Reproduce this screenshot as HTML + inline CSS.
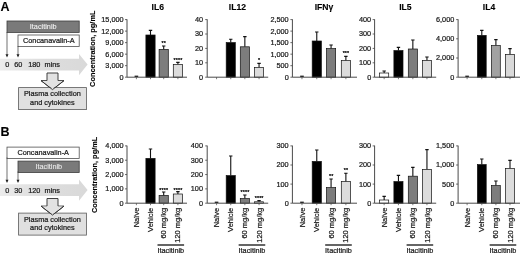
<!DOCTYPE html>
<html lang="en"><head><meta charset="utf-8"><title>Figure</title>
<style>
html,body{margin:0;padding:0;background:#fff;}
body{width:520px;height:255px;overflow:hidden;}
svg{display:block;font-family:"Liberation Sans",sans-serif;}
</style></head><body>
<svg width="520" height="255" viewBox="0 0 520 255">
<defs>
<linearGradient id="ga" x1="0" x2="1" y1="0" y2="0"><stop offset="0" stop-color="#ececec"/><stop offset="0.45" stop-color="#dedede"/><stop offset="1" stop-color="#d9d9d9"/></linearGradient>
</defs>
<rect width="520" height="255" fill="#fff"/>
<text x="0.5" y="11.3" font-size="12.5" text-anchor="start" font-weight="bold" fill="#000" stroke="#000" stroke-width="0.12">A</text>
<path d="M0 58.8 H79 V54.0 L87.6 64.6 L79 75.2 V70.6 H0 Z" fill="url(#ga)"/>
<rect x="7" y="21" width="72.2" height="11.4" fill="#7a7a7a" stroke="#3c3c3c" stroke-width="0.8"/>
<rect x="18" y="35" width="61.2" height="11.4" fill="#ffffff" stroke="#505050" stroke-width="0.8"/>
<text x="43.2" y="28.8" font-size="7.3" text-anchor="middle" font-weight="normal" fill="#f4f4f4" stroke="#f4f4f4" stroke-width="0.08">Itacitinib</text>
<text x="48.8" y="43.0" font-size="7.3" text-anchor="middle" font-weight="normal" fill="#1a1a1a" stroke="#1a1a1a" stroke-width="0.22">Concanavalin-A</text>
<path d="M7 32 V56 M18 46 V56" stroke="#333" stroke-width="0.7" fill="none"/>
<path d="M5.5 54.2 L8.5 54.2 L7 57.6 Z" fill="#222"/>
<path d="M16.5 54.2 L19.5 54.2 L18 57.6 Z" fill="#222"/>
<text x="7.3" y="67.4" font-size="7.3" text-anchor="middle" font-weight="normal" fill="#1a1a1a" stroke="#1a1a1a" stroke-width="0.22">0</text>
<text x="18.3" y="67.4" font-size="7.3" text-anchor="middle" font-weight="normal" fill="#1a1a1a" stroke="#1a1a1a" stroke-width="0.22">60</text>
<text x="34.3" y="67.4" font-size="7.3" text-anchor="middle" font-weight="normal" fill="#1a1a1a" stroke="#1a1a1a" stroke-width="0.22">180</text>
<text x="52.3" y="67.4" font-size="7.3" text-anchor="middle" font-weight="normal" fill="#1a1a1a" stroke="#1a1a1a" stroke-width="0.22">mins</text>
<path d="M47 73 H58 V80.6 H64 L52.5 89.6 L41 80.6 H47 Z" fill="#e2e2e2" stroke="#383838" stroke-width="0.95" stroke-linejoin="miter"/>
<rect x="18.6" y="87.6" width="67.8" height="22" fill="#e0e0e0" stroke="#5a5a5a" stroke-width="0.8"/>
<path d="M42.5 81 H62.5 L52.5 88.8 Z" fill="#e2e2e2"/>
<path d="M64 80.6 L52.5 89.6 L41 80.6" fill="none" stroke="#383838" stroke-width="0.95"/>
<text x="52.4" y="96.2" font-size="7.3" text-anchor="middle" font-weight="normal" fill="#1a1a1a" stroke="#1a1a1a" stroke-width="0.22">Plasma collection</text>
<text x="52.4" y="104.7" font-size="7.3" text-anchor="middle" font-weight="normal" fill="#1a1a1a" stroke="#1a1a1a" stroke-width="0.22">and cytokines</text>
<text x="0.5" y="136.1" font-size="12.5" text-anchor="start" font-weight="bold" fill="#000" stroke="#000" stroke-width="0.12">B</text>
<path d="M0 184.3 H79 V179.5 L87.6 190.1 L79 200.7 V196.1 H0 Z" fill="url(#ga)"/>
<rect x="7" y="147.1" width="72.2" height="11.4" fill="#ffffff" stroke="#505050" stroke-width="0.8"/>
<rect x="18" y="161.1" width="61.2" height="11.4" fill="#7a7a7a" stroke="#3c3c3c" stroke-width="0.8"/>
<text x="43.2" y="154.6" font-size="7.3" text-anchor="middle" font-weight="normal" fill="#1a1a1a" stroke="#1a1a1a" stroke-width="0.22">Concanavalin-A</text>
<text x="48.8" y="168.8" font-size="7.3" text-anchor="middle" font-weight="normal" fill="#ececec" stroke="#ececec" stroke-width="0.08">Itacitinib</text>
<path d="M7 157.5 V181.5 M18 171.5 V181.5" stroke="#333" stroke-width="0.7" fill="none"/>
<path d="M5.5 179.7 L8.5 179.7 L7 183.1 Z" fill="#222"/>
<path d="M16.5 179.7 L19.5 179.7 L18 183.1 Z" fill="#222"/>
<text x="7.3" y="192.9" font-size="7.3" text-anchor="middle" font-weight="normal" fill="#1a1a1a" stroke="#1a1a1a" stroke-width="0.22">0</text>
<text x="18.3" y="192.9" font-size="7.3" text-anchor="middle" font-weight="normal" fill="#1a1a1a" stroke="#1a1a1a" stroke-width="0.22">30</text>
<text x="34.3" y="192.9" font-size="7.3" text-anchor="middle" font-weight="normal" fill="#1a1a1a" stroke="#1a1a1a" stroke-width="0.22">120</text>
<text x="52.3" y="192.9" font-size="7.3" text-anchor="middle" font-weight="normal" fill="#1a1a1a" stroke="#1a1a1a" stroke-width="0.22">mins</text>
<path d="M47 198.5 H58 V206.1 H64 L52.5 215.1 L41 206.1 H47 Z" fill="#e2e2e2" stroke="#383838" stroke-width="0.95" stroke-linejoin="miter"/>
<rect x="18.6" y="213.1" width="67.8" height="22" fill="#e0e0e0" stroke="#5a5a5a" stroke-width="0.8"/>
<path d="M42.5 206.5 H62.5 L52.5 214.3 Z" fill="#e2e2e2"/>
<path d="M64 206.1 L52.5 215.1 L41 206.1" fill="none" stroke="#383838" stroke-width="0.95"/>
<text x="52.4" y="221.7" font-size="7.3" text-anchor="middle" font-weight="normal" fill="#1a1a1a" stroke="#1a1a1a" stroke-width="0.22">Plasma collection</text>
<text x="52.4" y="230.2" font-size="7.3" text-anchor="middle" font-weight="normal" fill="#1a1a1a" stroke="#1a1a1a" stroke-width="0.22">and cytokines</text>
<path d="M134.60 76.30 H138.20" stroke="#111" stroke-width="1.3" fill="none"/>
<path d="M136.40 77.2 v2" stroke="#444" stroke-width="0.7"/>
<path d="M150.50 35.00 V30.40 M148.80 30.40 H152.20" stroke="#111" stroke-width="1.1" fill="none"/>
<rect x="145.90" y="35.00" width="9.20" height="42.20" fill="#000000" stroke="#111" stroke-width="0.7"/>
<path d="M150.50 77.2 v2" stroke="#444" stroke-width="0.7"/>
<path d="M163.70 49.40 V46.00 M162.00 46.00 H165.40" stroke="#111" stroke-width="1.1" fill="none"/>
<rect x="159.10" y="49.40" width="9.20" height="27.80" fill="#7d7d7d" stroke="#111" stroke-width="0.7"/>
<path d="M163.70 77.2 v2" stroke="#444" stroke-width="0.7"/>
<path d="M177.90 64.40 V62.40 M176.20 62.40 H179.60" stroke="#111" stroke-width="1.1" fill="none"/>
<rect x="173.30" y="64.40" width="9.20" height="12.80" fill="#dcdcdc" stroke="#111" stroke-width="0.7"/>
<path d="M177.90 77.2 v2" stroke="#444" stroke-width="0.7"/>
<path d="M127.0 19.3 V77.2 H187.0" stroke="#4a4a4a" stroke-width="1" fill="none"/>
<path d="M125.0 77.20 h2" stroke="#444" stroke-width="0.8"/>
<text x="123.6" y="79.6" font-size="7.3" text-anchor="end" font-weight="normal" fill="#1a1a1a" stroke="#1a1a1a" stroke-width="0.22">0</text>
<path d="M125.0 65.68 h2" stroke="#444" stroke-width="0.8"/>
<text x="123.6" y="68.08" font-size="7.3" text-anchor="end" font-weight="normal" fill="#1a1a1a" stroke="#1a1a1a" stroke-width="0.22">3,000</text>
<path d="M125.0 54.16 h2" stroke="#444" stroke-width="0.8"/>
<text x="123.6" y="56.56" font-size="7.3" text-anchor="end" font-weight="normal" fill="#1a1a1a" stroke="#1a1a1a" stroke-width="0.22">6,000</text>
<path d="M125.0 42.64 h2" stroke="#444" stroke-width="0.8"/>
<text x="123.6" y="45.04" font-size="7.3" text-anchor="end" font-weight="normal" fill="#1a1a1a" stroke="#1a1a1a" stroke-width="0.22">9,000</text>
<path d="M125.0 31.12 h2" stroke="#444" stroke-width="0.8"/>
<text x="123.6" y="33.52" font-size="7.3" text-anchor="end" font-weight="normal" fill="#1a1a1a" stroke="#1a1a1a" stroke-width="0.22">12,000</text>
<path d="M125.0 19.60 h2" stroke="#444" stroke-width="0.8"/>
<text x="123.6" y="22.0" font-size="7.3" text-anchor="end" font-weight="normal" fill="#1a1a1a" stroke="#1a1a1a" stroke-width="0.22">15,000</text>
<text x="157.8" y="10.4" font-size="8.6" text-anchor="middle" font-weight="bold" fill="#000" stroke="#000" stroke-width="0.12">IL6</text>
<text x="163.8" y="45.0" font-size="5.3" text-anchor="middle" font-weight="normal" fill="#000" stroke="#000" stroke-width="0.22" letter-spacing="0.15">**</text>
<text x="178.0" y="61.6" font-size="5.3" text-anchor="middle" font-weight="normal" fill="#000" stroke="#000" stroke-width="0.22" letter-spacing="0.15">****</text>
<path d="M216.55 77.2 v2" stroke="#444" stroke-width="0.7"/>
<path d="M230.75 42.60 V39.20 M229.05 39.20 H232.45" stroke="#111" stroke-width="1.1" fill="none"/>
<rect x="226.20" y="42.60" width="9.10" height="34.60" fill="#000000" stroke="#111" stroke-width="0.7"/>
<path d="M230.75 77.2 v2" stroke="#444" stroke-width="0.7"/>
<path d="M244.85 46.80 V36.60 M243.15 36.60 H246.55" stroke="#111" stroke-width="1.1" fill="none"/>
<rect x="240.30" y="46.80" width="9.10" height="30.40" fill="#7d7d7d" stroke="#111" stroke-width="0.7"/>
<path d="M244.85 77.2 v2" stroke="#444" stroke-width="0.7"/>
<path d="M259.05 67.40 V63.40 M257.35 63.40 H260.75" stroke="#111" stroke-width="1.1" fill="none"/>
<rect x="254.50" y="67.40" width="9.10" height="9.80" fill="#dcdcdc" stroke="#111" stroke-width="0.7"/>
<path d="M259.05 77.2 v2" stroke="#444" stroke-width="0.7"/>
<path d="M207.2 19.3 V77.2 H268.2" stroke="#4a4a4a" stroke-width="1" fill="none"/>
<path d="M205.2 77.20 h2" stroke="#444" stroke-width="0.8"/>
<text x="203.0" y="79.6" font-size="7.3" text-anchor="end" font-weight="normal" fill="#1a1a1a" stroke="#1a1a1a" stroke-width="0.22">0</text>
<path d="M205.2 62.80 h2" stroke="#444" stroke-width="0.8"/>
<text x="203.0" y="65.2" font-size="7.3" text-anchor="end" font-weight="normal" fill="#1a1a1a" stroke="#1a1a1a" stroke-width="0.22">10</text>
<path d="M205.2 48.40 h2" stroke="#444" stroke-width="0.8"/>
<text x="203.0" y="50.8" font-size="7.3" text-anchor="end" font-weight="normal" fill="#1a1a1a" stroke="#1a1a1a" stroke-width="0.22">20</text>
<path d="M205.2 34.00 h2" stroke="#444" stroke-width="0.8"/>
<text x="203.0" y="36.4" font-size="7.3" text-anchor="end" font-weight="normal" fill="#1a1a1a" stroke="#1a1a1a" stroke-width="0.22">30</text>
<path d="M205.2 19.60 h2" stroke="#444" stroke-width="0.8"/>
<text x="203.0" y="22.0" font-size="7.3" text-anchor="end" font-weight="normal" fill="#1a1a1a" stroke="#1a1a1a" stroke-width="0.22">40</text>
<text x="237.4" y="10.4" font-size="8.6" text-anchor="middle" font-weight="bold" fill="#000" stroke="#000" stroke-width="0.12">IL12</text>
<text x="259.15" y="62.0" font-size="5.3" text-anchor="middle" font-weight="normal" fill="#000" stroke="#000" stroke-width="0.22" letter-spacing="0.15">*</text>
<path d="M300.18 76.30 H303.78" stroke="#111" stroke-width="1.3" fill="none"/>
<path d="M301.98 77.2 v2" stroke="#444" stroke-width="0.7"/>
<path d="M316.77 41.00 V32.00 M315.07 32.00 H318.47" stroke="#111" stroke-width="1.1" fill="none"/>
<rect x="312.20" y="41.00" width="9.15" height="36.20" fill="#000000" stroke="#111" stroke-width="0.7"/>
<path d="M316.77 77.2 v2" stroke="#444" stroke-width="0.7"/>
<path d="M331.07 48.60 V45.00 M329.38 45.00 H332.77" stroke="#111" stroke-width="1.1" fill="none"/>
<rect x="326.50" y="48.60" width="9.15" height="28.60" fill="#7d7d7d" stroke="#111" stroke-width="0.7"/>
<path d="M331.07 77.2 v2" stroke="#444" stroke-width="0.7"/>
<path d="M345.88 60.60 V56.40 M344.18 56.40 H347.57" stroke="#111" stroke-width="1.1" fill="none"/>
<rect x="341.30" y="60.60" width="9.15" height="16.60" fill="#dcdcdc" stroke="#111" stroke-width="0.7"/>
<path d="M345.88 77.2 v2" stroke="#444" stroke-width="0.7"/>
<path d="M292.4 19.3 V77.2 H357.0" stroke="#4a4a4a" stroke-width="1" fill="none"/>
<path d="M290.4 77.20 h2" stroke="#444" stroke-width="0.8"/>
<text x="288.7" y="79.6" font-size="7.3" text-anchor="end" font-weight="normal" fill="#1a1a1a" stroke="#1a1a1a" stroke-width="0.22">0</text>
<path d="M290.4 65.68 h2" stroke="#444" stroke-width="0.8"/>
<text x="288.7" y="68.08" font-size="7.3" text-anchor="end" font-weight="normal" fill="#1a1a1a" stroke="#1a1a1a" stroke-width="0.22">500</text>
<path d="M290.4 54.16 h2" stroke="#444" stroke-width="0.8"/>
<text x="288.7" y="56.56" font-size="7.3" text-anchor="end" font-weight="normal" fill="#1a1a1a" stroke="#1a1a1a" stroke-width="0.22">1,000</text>
<path d="M290.4 42.64 h2" stroke="#444" stroke-width="0.8"/>
<text x="288.7" y="45.04" font-size="7.3" text-anchor="end" font-weight="normal" fill="#1a1a1a" stroke="#1a1a1a" stroke-width="0.22">1,500</text>
<path d="M290.4 31.12 h2" stroke="#444" stroke-width="0.8"/>
<text x="288.7" y="33.52" font-size="7.3" text-anchor="end" font-weight="normal" fill="#1a1a1a" stroke="#1a1a1a" stroke-width="0.22">2,000</text>
<path d="M290.4 19.60 h2" stroke="#444" stroke-width="0.8"/>
<text x="288.7" y="22.0" font-size="7.3" text-anchor="end" font-weight="normal" fill="#1a1a1a" stroke="#1a1a1a" stroke-width="0.22">2,500</text>
<text x="324" y="10.4" font-size="8.6" text-anchor="middle" font-weight="bold" fill="#000" stroke="#000" stroke-width="0.12">IFNγ</text>
<text x="345.98" y="55.2" font-size="5.3" text-anchor="middle" font-weight="normal" fill="#000" stroke="#000" stroke-width="0.22" letter-spacing="0.15">***</text>
<path d="M384.15 73.00 V71.00 M382.45 71.00 H385.85" stroke="#111" stroke-width="1.1" fill="none"/>
<rect x="379.60" y="73.00" width="9.10" height="4.20" fill="#ffffff" stroke="#111" stroke-width="0.7"/>
<path d="M384.15 77.2 v2" stroke="#444" stroke-width="0.7"/>
<path d="M398.45 50.60 V47.40 M396.75 47.40 H400.15" stroke="#111" stroke-width="1.1" fill="none"/>
<rect x="393.90" y="50.60" width="9.10" height="26.60" fill="#000000" stroke="#111" stroke-width="0.7"/>
<path d="M398.45 77.2 v2" stroke="#444" stroke-width="0.7"/>
<path d="M412.85 49.00 V40.00 M411.15 40.00 H414.55" stroke="#111" stroke-width="1.1" fill="none"/>
<rect x="408.30" y="49.00" width="9.10" height="28.20" fill="#7d7d7d" stroke="#111" stroke-width="0.7"/>
<path d="M412.85 77.2 v2" stroke="#444" stroke-width="0.7"/>
<path d="M426.95 60.40 V57.00 M425.25 57.00 H428.65" stroke="#111" stroke-width="1.1" fill="none"/>
<rect x="422.40" y="60.40" width="9.10" height="16.80" fill="#dcdcdc" stroke="#111" stroke-width="0.7"/>
<path d="M426.95 77.2 v2" stroke="#444" stroke-width="0.7"/>
<path d="M374.6 19.3 V77.2 H436.2" stroke="#4a4a4a" stroke-width="1" fill="none"/>
<path d="M372.6 77.20 h2" stroke="#444" stroke-width="0.8"/>
<text x="371.2" y="79.6" font-size="7.3" text-anchor="end" font-weight="normal" fill="#1a1a1a" stroke="#1a1a1a" stroke-width="0.22">0</text>
<path d="M372.6 62.80 h2" stroke="#444" stroke-width="0.8"/>
<text x="371.2" y="65.2" font-size="7.3" text-anchor="end" font-weight="normal" fill="#1a1a1a" stroke="#1a1a1a" stroke-width="0.22">100</text>
<path d="M372.6 48.40 h2" stroke="#444" stroke-width="0.8"/>
<text x="371.2" y="50.8" font-size="7.3" text-anchor="end" font-weight="normal" fill="#1a1a1a" stroke="#1a1a1a" stroke-width="0.22">200</text>
<path d="M372.6 34.00 h2" stroke="#444" stroke-width="0.8"/>
<text x="371.2" y="36.4" font-size="7.3" text-anchor="end" font-weight="normal" fill="#1a1a1a" stroke="#1a1a1a" stroke-width="0.22">300</text>
<path d="M372.6 19.60 h2" stroke="#444" stroke-width="0.8"/>
<text x="371.2" y="22.0" font-size="7.3" text-anchor="end" font-weight="normal" fill="#1a1a1a" stroke="#1a1a1a" stroke-width="0.22">400</text>
<text x="405.4" y="10.4" font-size="8.6" text-anchor="middle" font-weight="bold" fill="#000" stroke="#000" stroke-width="0.12">IL5</text>
<path d="M465.30 76.30 H468.90" stroke="#111" stroke-width="1.3" fill="none"/>
<path d="M467.10 77.2 v2" stroke="#444" stroke-width="0.7"/>
<path d="M481.80 35.40 V30.40 M480.10 30.40 H483.50" stroke="#111" stroke-width="1.1" fill="none"/>
<rect x="477.40" y="35.40" width="8.80" height="41.80" fill="#000000" stroke="#111" stroke-width="0.7"/>
<path d="M481.80 77.2 v2" stroke="#444" stroke-width="0.7"/>
<path d="M495.90 45.60 V39.60 M494.20 39.60 H497.60" stroke="#111" stroke-width="1.1" fill="none"/>
<rect x="491.50" y="45.60" width="8.80" height="31.60" fill="#a2a2a2" stroke="#111" stroke-width="0.7"/>
<path d="M495.90 77.2 v2" stroke="#444" stroke-width="0.7"/>
<path d="M510.00 54.40 V48.60 M508.30 48.60 H511.70" stroke="#111" stroke-width="1.1" fill="none"/>
<rect x="505.60" y="54.40" width="8.80" height="22.80" fill="#d9d9d9" stroke="#111" stroke-width="0.7"/>
<path d="M510.00 77.2 v2" stroke="#444" stroke-width="0.7"/>
<path d="M458.1 19.3 V77.2 H520.0" stroke="#4a4a4a" stroke-width="1" fill="none"/>
<path d="M456.1 77.20 h2" stroke="#444" stroke-width="0.8"/>
<text x="454.3" y="79.6" font-size="7.3" text-anchor="end" font-weight="normal" fill="#1a1a1a" stroke="#1a1a1a" stroke-width="0.22">0</text>
<path d="M456.1 58.00 h2" stroke="#444" stroke-width="0.8"/>
<text x="454.3" y="60.4" font-size="7.3" text-anchor="end" font-weight="normal" fill="#1a1a1a" stroke="#1a1a1a" stroke-width="0.22">2,000</text>
<path d="M456.1 38.80 h2" stroke="#444" stroke-width="0.8"/>
<text x="454.3" y="41.2" font-size="7.3" text-anchor="end" font-weight="normal" fill="#1a1a1a" stroke="#1a1a1a" stroke-width="0.22">4,000</text>
<path d="M456.1 19.60 h2" stroke="#444" stroke-width="0.8"/>
<text x="454.3" y="22.0" font-size="7.3" text-anchor="end" font-weight="normal" fill="#1a1a1a" stroke="#1a1a1a" stroke-width="0.22">6,000</text>
<text x="489" y="10.4" font-size="8.6" text-anchor="middle" font-weight="bold" fill="#000" stroke="#000" stroke-width="0.12">IL4</text>
<path d="M136.40 203.2 v2" stroke="#444" stroke-width="0.7"/>
<path d="M150.50 158.40 V149.00 M148.80 149.00 H152.20" stroke="#111" stroke-width="1.1" fill="none"/>
<rect x="145.90" y="158.40" width="9.20" height="44.80" fill="#000000" stroke="#111" stroke-width="0.7"/>
<path d="M150.50 203.2 v2" stroke="#444" stroke-width="0.7"/>
<path d="M163.70 195.40 V192.00 M162.00 192.00 H165.40" stroke="#111" stroke-width="1.1" fill="none"/>
<rect x="159.10" y="195.40" width="9.20" height="7.80" fill="#7d7d7d" stroke="#111" stroke-width="0.7"/>
<path d="M163.70 203.2 v2" stroke="#444" stroke-width="0.7"/>
<path d="M177.90 194.00 V191.60 M176.20 191.60 H179.60" stroke="#111" stroke-width="1.1" fill="none"/>
<rect x="173.30" y="194.00" width="9.20" height="9.20" fill="#dcdcdc" stroke="#111" stroke-width="0.7"/>
<path d="M177.90 203.2 v2" stroke="#444" stroke-width="0.7"/>
<path d="M127.0 145.6 V203.2 H187.0" stroke="#4a4a4a" stroke-width="1" fill="none"/>
<path d="M125.0 203.20 h2" stroke="#444" stroke-width="0.8"/>
<text x="123.6" y="205.6" font-size="7.3" text-anchor="end" font-weight="normal" fill="#1a1a1a" stroke="#1a1a1a" stroke-width="0.22">0</text>
<path d="M125.0 188.88 h2" stroke="#444" stroke-width="0.8"/>
<text x="123.6" y="191.28" font-size="7.3" text-anchor="end" font-weight="normal" fill="#1a1a1a" stroke="#1a1a1a" stroke-width="0.22">1,000</text>
<path d="M125.0 174.55 h2" stroke="#444" stroke-width="0.8"/>
<text x="123.6" y="176.95" font-size="7.3" text-anchor="end" font-weight="normal" fill="#1a1a1a" stroke="#1a1a1a" stroke-width="0.22">2,000</text>
<path d="M125.0 160.22 h2" stroke="#444" stroke-width="0.8"/>
<text x="123.6" y="162.62" font-size="7.3" text-anchor="end" font-weight="normal" fill="#1a1a1a" stroke="#1a1a1a" stroke-width="0.22">3,000</text>
<path d="M125.0 145.90 h2" stroke="#444" stroke-width="0.8"/>
<text x="123.6" y="148.3" font-size="7.3" text-anchor="end" font-weight="normal" fill="#1a1a1a" stroke="#1a1a1a" stroke-width="0.22">4,000</text>
<text x="163.8" y="192.0" font-size="5.3" text-anchor="middle" font-weight="normal" fill="#000" stroke="#000" stroke-width="0.22" letter-spacing="0.15">****</text>
<text x="178.0" y="191.8" font-size="5.3" text-anchor="middle" font-weight="normal" fill="#000" stroke="#000" stroke-width="0.22" letter-spacing="0.15">****</text>
<text x="139.0" y="207.7" font-size="7.5" text-anchor="end" font-weight="normal" fill="#1a1a1a" stroke="#1a1a1a" stroke-width="0.22" transform="rotate(-90 139.0 207.7)">Naïve</text>
<text x="153.1" y="207.7" font-size="7.5" text-anchor="end" font-weight="normal" fill="#1a1a1a" stroke="#1a1a1a" stroke-width="0.22" transform="rotate(-90 153.1 207.7)">Vehicle</text>
<text x="166.3" y="207.7" font-size="7.5" text-anchor="end" font-weight="normal" fill="#1a1a1a" stroke="#1a1a1a" stroke-width="0.22" transform="rotate(-90 166.3 207.7)">60 mg/kg</text>
<text x="180.5" y="207.7" font-size="7.5" text-anchor="end" font-weight="normal" fill="#1a1a1a" stroke="#1a1a1a" stroke-width="0.22" transform="rotate(-90 180.5 207.7)">120 mg/kg</text>
<path d="M157.50 245.0 H184.10" stroke="#111" stroke-width="1.3"/>
<text x="170.8" y="253.0" font-size="7.3" text-anchor="middle" font-weight="normal" fill="#1a1a1a" stroke="#1a1a1a" stroke-width="0.22">Itacitinib</text>
<path d="M214.75 202.30 H218.35" stroke="#111" stroke-width="1.3" fill="none"/>
<path d="M216.55 203.2 v2" stroke="#444" stroke-width="0.7"/>
<path d="M230.75 175.60 V156.00 M229.05 156.00 H232.45" stroke="#111" stroke-width="1.1" fill="none"/>
<rect x="226.20" y="175.60" width="9.10" height="27.60" fill="#000000" stroke="#111" stroke-width="0.7"/>
<path d="M230.75 203.2 v2" stroke="#444" stroke-width="0.7"/>
<path d="M244.85 198.60 V195.00 M243.15 195.00 H246.55" stroke="#111" stroke-width="1.1" fill="none"/>
<rect x="240.30" y="198.60" width="9.10" height="4.60" fill="#7d7d7d" stroke="#111" stroke-width="0.7"/>
<path d="M244.85 203.2 v2" stroke="#444" stroke-width="0.7"/>
<path d="M259.05 201.80 V200.60 M257.35 200.60 H260.75" stroke="#111" stroke-width="1.1" fill="none"/>
<rect x="254.50" y="201.80" width="9.10" height="1.40" fill="#dcdcdc" stroke="#111" stroke-width="0.7"/>
<path d="M259.05 203.2 v2" stroke="#444" stroke-width="0.7"/>
<path d="M207.2 145.6 V203.2 H268.2" stroke="#4a4a4a" stroke-width="1" fill="none"/>
<path d="M205.2 203.20 h2" stroke="#444" stroke-width="0.8"/>
<text x="203.0" y="205.6" font-size="7.3" text-anchor="end" font-weight="normal" fill="#1a1a1a" stroke="#1a1a1a" stroke-width="0.22">0</text>
<path d="M205.2 188.88 h2" stroke="#444" stroke-width="0.8"/>
<text x="203.0" y="191.28" font-size="7.3" text-anchor="end" font-weight="normal" fill="#1a1a1a" stroke="#1a1a1a" stroke-width="0.22">100</text>
<path d="M205.2 174.55 h2" stroke="#444" stroke-width="0.8"/>
<text x="203.0" y="176.95" font-size="7.3" text-anchor="end" font-weight="normal" fill="#1a1a1a" stroke="#1a1a1a" stroke-width="0.22">200</text>
<path d="M205.2 160.22 h2" stroke="#444" stroke-width="0.8"/>
<text x="203.0" y="162.62" font-size="7.3" text-anchor="end" font-weight="normal" fill="#1a1a1a" stroke="#1a1a1a" stroke-width="0.22">300</text>
<path d="M205.2 145.90 h2" stroke="#444" stroke-width="0.8"/>
<text x="203.0" y="148.3" font-size="7.3" text-anchor="end" font-weight="normal" fill="#1a1a1a" stroke="#1a1a1a" stroke-width="0.22">400</text>
<text x="244.95" y="194.2" font-size="5.3" text-anchor="middle" font-weight="normal" fill="#000" stroke="#000" stroke-width="0.22" letter-spacing="0.15">****</text>
<text x="259.15" y="199.6" font-size="5.3" text-anchor="middle" font-weight="normal" fill="#000" stroke="#000" stroke-width="0.22" letter-spacing="0.15">****</text>
<text x="219.15" y="207.7" font-size="7.5" text-anchor="end" font-weight="normal" fill="#1a1a1a" stroke="#1a1a1a" stroke-width="0.22" transform="rotate(-90 219.15 207.7)">Naïve</text>
<text x="233.35" y="207.7" font-size="7.5" text-anchor="end" font-weight="normal" fill="#1a1a1a" stroke="#1a1a1a" stroke-width="0.22" transform="rotate(-90 233.35 207.7)">Vehicle</text>
<text x="247.45" y="207.7" font-size="7.5" text-anchor="end" font-weight="normal" fill="#1a1a1a" stroke="#1a1a1a" stroke-width="0.22" transform="rotate(-90 247.45 207.7)">60 mg/kg</text>
<text x="261.65" y="207.7" font-size="7.5" text-anchor="end" font-weight="normal" fill="#1a1a1a" stroke="#1a1a1a" stroke-width="0.22" transform="rotate(-90 261.65 207.7)">120 mg/kg</text>
<path d="M238.65 245.0 H265.25" stroke="#111" stroke-width="1.3"/>
<text x="251.95" y="253.0" font-size="7.3" text-anchor="middle" font-weight="normal" fill="#1a1a1a" stroke="#1a1a1a" stroke-width="0.22">Itacitinib</text>
<path d="M300.18 202.30 H303.78" stroke="#111" stroke-width="1.3" fill="none"/>
<path d="M301.98 203.2 v2" stroke="#444" stroke-width="0.7"/>
<path d="M316.77 161.40 V150.00 M315.07 150.00 H318.47" stroke="#111" stroke-width="1.1" fill="none"/>
<rect x="312.20" y="161.40" width="9.15" height="41.80" fill="#000000" stroke="#111" stroke-width="0.7"/>
<path d="M316.77 203.2 v2" stroke="#444" stroke-width="0.7"/>
<path d="M331.07 187.60 V179.00 M329.38 179.00 H332.77" stroke="#111" stroke-width="1.1" fill="none"/>
<rect x="326.50" y="187.60" width="9.15" height="15.60" fill="#7d7d7d" stroke="#111" stroke-width="0.7"/>
<path d="M331.07 203.2 v2" stroke="#444" stroke-width="0.7"/>
<path d="M345.88 181.60 V173.20 M344.18 173.20 H347.57" stroke="#111" stroke-width="1.1" fill="none"/>
<rect x="341.30" y="181.60" width="9.15" height="21.60" fill="#dcdcdc" stroke="#111" stroke-width="0.7"/>
<path d="M345.88 203.2 v2" stroke="#444" stroke-width="0.7"/>
<path d="M292.4 145.6 V203.2 H357.0" stroke="#4a4a4a" stroke-width="1" fill="none"/>
<path d="M290.4 203.20 h2" stroke="#444" stroke-width="0.8"/>
<text x="288.7" y="205.6" font-size="7.3" text-anchor="end" font-weight="normal" fill="#1a1a1a" stroke="#1a1a1a" stroke-width="0.22">0</text>
<path d="M290.4 184.10 h2" stroke="#444" stroke-width="0.8"/>
<text x="288.7" y="186.5" font-size="7.3" text-anchor="end" font-weight="normal" fill="#1a1a1a" stroke="#1a1a1a" stroke-width="0.22">100</text>
<path d="M290.4 165.00 h2" stroke="#444" stroke-width="0.8"/>
<text x="288.7" y="167.4" font-size="7.3" text-anchor="end" font-weight="normal" fill="#1a1a1a" stroke="#1a1a1a" stroke-width="0.22">200</text>
<path d="M290.4 145.90 h2" stroke="#444" stroke-width="0.8"/>
<text x="288.7" y="148.3" font-size="7.3" text-anchor="end" font-weight="normal" fill="#1a1a1a" stroke="#1a1a1a" stroke-width="0.22">300</text>
<text x="331.18" y="178.0" font-size="5.3" text-anchor="middle" font-weight="normal" fill="#000" stroke="#000" stroke-width="0.22" letter-spacing="0.15">**</text>
<text x="345.98" y="172.0" font-size="5.3" text-anchor="middle" font-weight="normal" fill="#000" stroke="#000" stroke-width="0.22" letter-spacing="0.15">**</text>
<text x="304.58" y="207.7" font-size="7.5" text-anchor="end" font-weight="normal" fill="#1a1a1a" stroke="#1a1a1a" stroke-width="0.22" transform="rotate(-90 304.58 207.7)">Naïve</text>
<text x="319.38" y="207.7" font-size="7.5" text-anchor="end" font-weight="normal" fill="#1a1a1a" stroke="#1a1a1a" stroke-width="0.22" transform="rotate(-90 319.38 207.7)">Vehicle</text>
<text x="333.68" y="207.7" font-size="7.5" text-anchor="end" font-weight="normal" fill="#1a1a1a" stroke="#1a1a1a" stroke-width="0.22" transform="rotate(-90 333.68 207.7)">60 mg/kg</text>
<text x="348.48" y="207.7" font-size="7.5" text-anchor="end" font-weight="normal" fill="#1a1a1a" stroke="#1a1a1a" stroke-width="0.22" transform="rotate(-90 348.48 207.7)">120 mg/kg</text>
<path d="M325.18 245.0 H351.78" stroke="#111" stroke-width="1.3"/>
<text x="338.48" y="253.0" font-size="7.3" text-anchor="middle" font-weight="normal" fill="#1a1a1a" stroke="#1a1a1a" stroke-width="0.22">Itacitinib</text>
<path d="M384.15 200.00 V196.40 M382.45 196.40 H385.85" stroke="#111" stroke-width="1.1" fill="none"/>
<rect x="379.60" y="200.00" width="9.10" height="3.20" fill="#ffffff" stroke="#111" stroke-width="0.7"/>
<path d="M384.15 203.2 v2" stroke="#444" stroke-width="0.7"/>
<path d="M398.45 181.60 V175.40 M396.75 175.40 H400.15" stroke="#111" stroke-width="1.1" fill="none"/>
<rect x="393.90" y="181.60" width="9.10" height="21.60" fill="#000000" stroke="#111" stroke-width="0.7"/>
<path d="M398.45 203.2 v2" stroke="#444" stroke-width="0.7"/>
<path d="M412.85 176.20 V167.40 M411.15 167.40 H414.55" stroke="#111" stroke-width="1.1" fill="none"/>
<rect x="408.30" y="176.20" width="9.10" height="27.00" fill="#7d7d7d" stroke="#111" stroke-width="0.7"/>
<path d="M412.85 203.2 v2" stroke="#444" stroke-width="0.7"/>
<path d="M426.95 169.40 V149.60 M425.25 149.60 H428.65" stroke="#111" stroke-width="1.1" fill="none"/>
<rect x="422.40" y="169.40" width="9.10" height="33.80" fill="#dcdcdc" stroke="#111" stroke-width="0.7"/>
<path d="M426.95 203.2 v2" stroke="#444" stroke-width="0.7"/>
<path d="M374.6 145.6 V203.2 H436.2" stroke="#4a4a4a" stroke-width="1" fill="none"/>
<path d="M372.6 203.20 h2" stroke="#444" stroke-width="0.8"/>
<text x="371.2" y="205.6" font-size="7.3" text-anchor="end" font-weight="normal" fill="#1a1a1a" stroke="#1a1a1a" stroke-width="0.22">0</text>
<path d="M372.6 184.10 h2" stroke="#444" stroke-width="0.8"/>
<text x="371.2" y="186.5" font-size="7.3" text-anchor="end" font-weight="normal" fill="#1a1a1a" stroke="#1a1a1a" stroke-width="0.22">100</text>
<path d="M372.6 165.00 h2" stroke="#444" stroke-width="0.8"/>
<text x="371.2" y="167.4" font-size="7.3" text-anchor="end" font-weight="normal" fill="#1a1a1a" stroke="#1a1a1a" stroke-width="0.22">200</text>
<path d="M372.6 145.90 h2" stroke="#444" stroke-width="0.8"/>
<text x="371.2" y="148.3" font-size="7.3" text-anchor="end" font-weight="normal" fill="#1a1a1a" stroke="#1a1a1a" stroke-width="0.22">300</text>
<text x="386.75" y="207.7" font-size="7.5" text-anchor="end" font-weight="normal" fill="#1a1a1a" stroke="#1a1a1a" stroke-width="0.22" transform="rotate(-90 386.75 207.7)">Naïve</text>
<text x="401.05" y="207.7" font-size="7.5" text-anchor="end" font-weight="normal" fill="#1a1a1a" stroke="#1a1a1a" stroke-width="0.22" transform="rotate(-90 401.05 207.7)">Vehicle</text>
<text x="415.45" y="207.7" font-size="7.5" text-anchor="end" font-weight="normal" fill="#1a1a1a" stroke="#1a1a1a" stroke-width="0.22" transform="rotate(-90 415.45 207.7)">60 mg/kg</text>
<text x="429.55" y="207.7" font-size="7.5" text-anchor="end" font-weight="normal" fill="#1a1a1a" stroke="#1a1a1a" stroke-width="0.22" transform="rotate(-90 429.55 207.7)">120 mg/kg</text>
<path d="M406.60 245.0 H433.20" stroke="#111" stroke-width="1.3"/>
<text x="419.9" y="253.0" font-size="7.3" text-anchor="middle" font-weight="normal" fill="#1a1a1a" stroke="#1a1a1a" stroke-width="0.22">Itacitinib</text>
<path d="M467.10 203.2 v2" stroke="#444" stroke-width="0.7"/>
<path d="M481.80 164.60 V159.00 M480.10 159.00 H483.50" stroke="#111" stroke-width="1.1" fill="none"/>
<rect x="477.40" y="164.60" width="8.80" height="38.60" fill="#000000" stroke="#111" stroke-width="0.7"/>
<path d="M481.80 203.2 v2" stroke="#444" stroke-width="0.7"/>
<path d="M495.90 185.60 V181.00 M494.20 181.00 H497.60" stroke="#111" stroke-width="1.1" fill="none"/>
<rect x="491.50" y="185.60" width="8.80" height="17.60" fill="#7d7d7d" stroke="#111" stroke-width="0.7"/>
<path d="M495.90 203.2 v2" stroke="#444" stroke-width="0.7"/>
<path d="M510.00 168.40 V160.40 M508.30 160.40 H511.70" stroke="#111" stroke-width="1.1" fill="none"/>
<rect x="505.60" y="168.40" width="8.80" height="34.80" fill="#dcdcdc" stroke="#111" stroke-width="0.7"/>
<path d="M510.00 203.2 v2" stroke="#444" stroke-width="0.7"/>
<path d="M458.1 145.6 V203.2 H520.0" stroke="#4a4a4a" stroke-width="1" fill="none"/>
<path d="M456.1 203.20 h2" stroke="#444" stroke-width="0.8"/>
<text x="454.3" y="205.6" font-size="7.3" text-anchor="end" font-weight="normal" fill="#1a1a1a" stroke="#1a1a1a" stroke-width="0.22">0</text>
<path d="M456.1 184.10 h2" stroke="#444" stroke-width="0.8"/>
<text x="454.3" y="186.5" font-size="7.3" text-anchor="end" font-weight="normal" fill="#1a1a1a" stroke="#1a1a1a" stroke-width="0.22">500</text>
<path d="M456.1 165.00 h2" stroke="#444" stroke-width="0.8"/>
<text x="454.3" y="167.4" font-size="7.3" text-anchor="end" font-weight="normal" fill="#1a1a1a" stroke="#1a1a1a" stroke-width="0.22">1,000</text>
<path d="M456.1 145.90 h2" stroke="#444" stroke-width="0.8"/>
<text x="454.3" y="148.3" font-size="7.3" text-anchor="end" font-weight="normal" fill="#1a1a1a" stroke="#1a1a1a" stroke-width="0.22">1,500</text>
<text x="469.7" y="207.7" font-size="7.5" text-anchor="end" font-weight="normal" fill="#1a1a1a" stroke="#1a1a1a" stroke-width="0.22" transform="rotate(-90 469.7 207.7)">Naïve</text>
<text x="484.4" y="207.7" font-size="7.5" text-anchor="end" font-weight="normal" fill="#1a1a1a" stroke="#1a1a1a" stroke-width="0.22" transform="rotate(-90 484.4 207.7)">Vehicle</text>
<text x="498.5" y="207.7" font-size="7.5" text-anchor="end" font-weight="normal" fill="#1a1a1a" stroke="#1a1a1a" stroke-width="0.22" transform="rotate(-90 498.5 207.7)">60 mg/kg</text>
<text x="512.6" y="207.7" font-size="7.5" text-anchor="end" font-weight="normal" fill="#1a1a1a" stroke="#1a1a1a" stroke-width="0.22" transform="rotate(-90 512.6 207.7)">120 mg/kg</text>
<path d="M489.65 245.0 H516.25" stroke="#111" stroke-width="1.3"/>
<text x="502.95" y="253.0" font-size="7.3" text-anchor="middle" font-weight="normal" fill="#1a1a1a" stroke="#1a1a1a" stroke-width="0.22">Itacitinib</text>
<text x="94.7" y="48.7" font-size="7.4" text-anchor="middle" font-weight="bold" fill="#000" stroke="#000" stroke-width="0.12" transform="rotate(-90 94.7 48.7)">Concentration, pg/mL</text>
<text x="97.0" y="174.9" font-size="7.4" text-anchor="middle" font-weight="bold" fill="#000" stroke="#000" stroke-width="0.12" transform="rotate(-90 97.0 174.9)">Concentration, pg/mL</text>
</svg>
</body></html>
